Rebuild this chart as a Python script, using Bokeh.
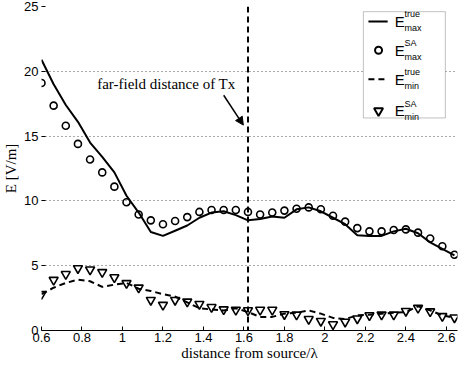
from bokeh.plotting import figure
from bokeh.models import (FixedTicker, CustomJSTickFormatter, Span, Label, Arrow,
                          NormalHead, Range1d, BoxAnnotation)
from bokeh.embed import file_html
from bokeh.resources import INLINE

# ---- data ----
dist = [0.60, 0.66, 0.72, 0.78, 0.84, 0.90, 0.96, 1.02, 1.08, 1.14, 1.20, 1.26,
        1.32, 1.38, 1.44, 1.50, 1.56, 1.62, 1.68, 1.74, 1.80, 1.86, 1.92, 1.98,
        2.04, 2.10, 2.16, 2.22, 2.28, 2.34, 2.40, 2.46, 2.52, 2.58, 2.64]
emax_true = [20.9, 19.0, 17.4, 16.1, 14.5, 13.4, 12.2, 10.4, 9.1, 7.6, 7.3, 7.7,
             8.1, 8.7, 9.1, 9.2, 8.9, 8.5, 8.6, 8.8, 8.7, 9.35, 9.5, 9.2,
             8.7, 8.2, 7.35, 7.3, 7.3, 7.65, 7.85, 7.5, 6.8, 6.3, 5.8]
emax_sa = [19.1, 17.35, 15.8, 14.4, 13.2, 12.2, 11.1, 9.9, 8.95, 8.5, 8.2, 8.45,
           8.75, 9.15, 9.3, 9.3, 9.3, 9.15, 8.95, 9.1, 9.25, 9.4, 9.5, 9.35,
           8.85, 8.4, 7.9, 7.65, 7.65, 7.75, 7.8, 7.55, 7.1, 6.5, 5.85]
emin_true = [2.8, 3.3, 3.67, 3.92, 3.8, 3.37, 3.54, 3.67, 3.22, 3.05, 2.8, 2.62,
             2.17, 1.72, 1.62, 1.55, 1.72, 1.42, 1.05, 1.05, 1.3, 1.37, 1.55, 1.3,
             0.97, 0.88, 1.17, 1.22, 1.3, 1.37, 1.42, 1.87, 1.55, 1.17, 0.97]
emin_sa = [2.8, 3.9, 4.35, 4.8, 4.7, 4.5, 4.1, 3.65, 3.3, 2.35, 1.97, 2.35,
           2.22, 2.04, 1.8, 1.62, 1.59, 1.55, 1.59, 1.59, 1.25, 1.22, 0.88, 0.73,
           0.47, 0.67, 0.92, 1.17, 1.22, 1.22, 1.5, 1.74, 1.47, 1.1, 1.0]
far_field = 1.62
x_ticks = [0.6, 0.8, 1.0, 1.2, 1.4, 1.6, 1.8, 2.0, 2.2, 2.4, 2.6]
y_ticks = [0, 5, 10, 15, 20, 25]

SERIF = "Liberation Serif"
SANS = "Liberation Sans"

p = figure(width=458, height=363, output_backend="svg", toolbar_location=None,
           x_range=Range1d(0.6, 2.655), y_range=Range1d(0, 25),
           min_border_left=37, min_border_right=1, min_border_top=6,
           min_border_bottom=30)
p.outline_line_color = None
p.background_fill_color = "white"

# axes
p.xaxis.ticker = FixedTicker(ticks=x_ticks)
p.xaxis.formatter = CustomJSTickFormatter(code="return tick.toFixed(1).replace(/\\.0$/, '');")
p.yaxis.ticker = FixedTicker(ticks=y_ticks)
for ax in (p.xaxis, p.yaxis):
    ax.major_tick_in = 4
    ax.major_tick_out = 0
    ax.minor_tick_line_color = None
    ax.major_label_text_font = SANS
    ax.major_label_text_font_size = "13px"
    ax.major_label_text_color = "black"
    ax.axis_label_text_font = SERIF
    ax.axis_label_text_font_style = "normal"
    ax.axis_label_text_font_size = "15px"
    ax.axis_label_text_color = "black"
    ax.major_tick_line_color = "black"
p.xaxis.axis_line_color = "black"
p.yaxis.axis_line_color = None
p.xaxis.axis_label = "distance from source/λ"
p.yaxis.axis_label = "E [V/m]"
p.xaxis.major_label_standoff = 2
p.xaxis.axis_label_standoff = 0
p.yaxis.major_label_standoff = 3
p.yaxis.axis_label_standoff = 2

# grid
p.xgrid.grid_line_color = None
p.ygrid.grid_line_color = "#555555"
p.ygrid.grid_line_dash = "1 3"
p.ygrid.grid_line_width = 1

# data
p.line(dist, emax_true, line_color="black", line_width=2)
p.scatter(dist, emax_sa, marker="circle", size=7, line_color="black",
          fill_color=None, line_width=1.6)
p.line(dist, emin_true, line_color="black", line_width=2, line_dash="6 4")
p.scatter(dist, emin_sa, marker="inverted_triangle", size=9, line_color="black",
          fill_color=None, line_width=1.6)

# far-field line
p.add_layout(Span(location=far_field, dimension="height", line_color="black",
                  line_width=2, line_dash="6 4"))
p.add_layout(Label(x=0.875, y=19.0, text="far-field distance of Tx",
                   text_font=SERIF, text_font_size="15px", text_baseline="middle",
                   text_color="black"))
p.add_layout(Arrow(x_start=1.50, y_start=18.15, x_end=1.597, y_end=15.85,
                   line_color="black", line_width=1.5,
                   end=NormalHead(size=8, fill_color="black", line_color="black")))

# legend (drawn manually to allow super/subscripts)
p.add_layout(BoxAnnotation(left=2.19, right=2.595, top=24.6, bottom=16.4,
                           fill_color="white", fill_alpha=1.0, line_color="#333333",
                           line_width=1, level="underlay"))
leg_y = [23.85, 21.62, 19.38, 16.95]
sup = ["true", "SA", "true", "SA"]
sub = ["max", "max", "min", "min"]
p.line([2.215, 2.31], [leg_y[0], leg_y[0]], line_color="black", line_width=2)
p.scatter([2.265], [leg_y[1]], marker="circle", size=7, line_color="black",
          fill_color=None, line_width=2)
p.line([2.215, 2.31], [leg_y[2], leg_y[2]], line_color="black", line_width=2,
       line_dash="6 4")
p.scatter([2.265], [leg_y[3]], marker="inverted_triangle", size=9, line_color="black",
          fill_color=None, line_width=2)
for yy, s1, s2 in zip(leg_y, sup, sub):
    p.add_layout(Label(x=2.345, y=yy, text="E", text_font=SANS, text_font_size="15px",
                       text_baseline="middle", text_color="black"))
    p.add_layout(Label(x=2.393, y=yy + 0.55, text=s1, text_font=SANS, text_font_size="9px",
                       text_baseline="middle", text_color="black"))
    p.add_layout(Label(x=2.393, y=yy - 0.5, text=s2, text_font=SANS, text_font_size="9px",
                       text_baseline="middle", text_color="black"))

open("out.html", "w").write(file_html(p, INLINE))
